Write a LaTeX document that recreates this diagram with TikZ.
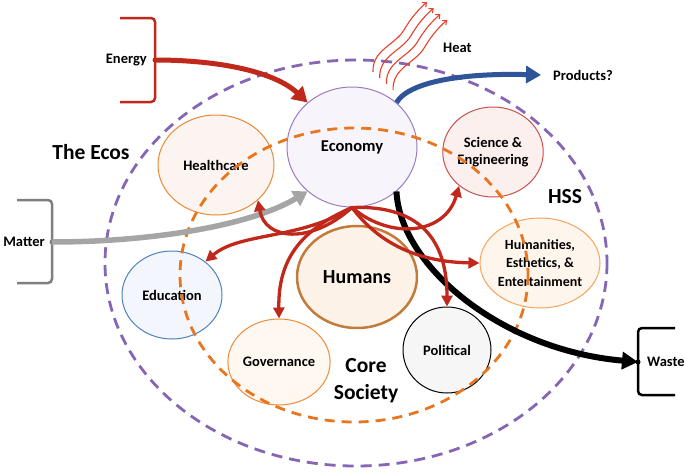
\documentclass[tikz,border=0pt]{standalone}
\usepackage{fontspec}
\setmainfont{Carlito}
\usetikzlibrary{shapes.geometric,arrows.meta}
\definecolor{ecopurple}{HTML}{8566B4}
\definecolor{coreorange}{HTML}{E8761E}
\definecolor{flowred}{HTML}{C0281C}
\definecolor{heatred}{HTML}{E8402A}
\definecolor{prodblue}{HTML}{2E5597}
\definecolor{mattergray}{HTML}{A5A5A5}
\definecolor{bracketgray}{HTML}{7F7F7F}
\definecolor{econline}{HTML}{9B7BC4}
\definecolor{econfill}{HTML}{F8F4FC}
\definecolor{healthline}{HTML}{EA8A36}
\definecolor{healthfill}{HTML}{FCF4F0}
\definecolor{sciline}{HTML}{C8504D}
\definecolor{scifill}{HTML}{FCF0EE}
\definecolor{humline}{HTML}{F6A45C}
\definecolor{humfill}{HTML}{FEF6EC}
\definecolor{eduline}{HTML}{4F81BD}
\definecolor{edufill}{HTML}{F3F6FC}
\definecolor{humansline}{HTML}{C27B3A}
\definecolor{humansfill}{HTML}{FCF2E8}
\definecolor{govline}{HTML}{EE8A3A}
\definecolor{govfill}{HTML}{FEF8F1}
\definecolor{polfill}{HTML}{F6F6F6}
\newcommand\mylbl{\fontsize{14.5}{17}\selectfont\bfseries}
\newcommand\mybig{\fontsize{21.5}{27}\selectfont\bfseries}
\begin{document}
\begin{tikzpicture}[x=1pt,y=-1pt,
  blob/.style={ellipse, draw, inner sep=0pt, line width=1pt, align=center, font=\mylbl},
  txt/.style={inner sep=0pt, align=center, font=\mylbl},
  bigtxt/.style={inner sep=0pt, align=center, font=\mybig},
  redflow/.style={draw=flowred, line width=3.3pt, -{Triangle[length=11pt,width=11pt]}},
  heatline/.style={draw=heatred, line width=1.1pt, -{Straight Barb[length=3.5pt,width=6pt]}},
  bracket/.style={line width=2.5pt, rounded corners=4pt},
  port/.style={circle, fill, inner sep=0pt, minimum size=5pt}
]
\useasboundingbox (0,0) rectangle (685,471);
\fill[white] (0,0) rectangle (685,471);

% outer ecos ellipse
\draw[ecopurple, line width=2.8pt, dash pattern=on 11pt off 7pt] (356,263) ellipse [x radius=251, y radius=203];

% nodes
\node[blob, draw=econline, fill=econfill, minimum width=130pt, minimum height=120pt, font=\fontsize{16.5}{19}\selectfont\bfseries] (economy) at (352,147) {Economy};
\node[blob, draw=healthline, fill=healthfill, minimum width=116pt, minimum height=100pt] (healthcare) at (216,165) {Healthcare};
\node[blob, draw=sciline, fill=scifill, minimum width=96pt, minimum height=90pt] (science) at (493,152) {Science \&\\Engineering};
\node[blob, draw=humline, fill=humfill, minimum width=120pt, minimum height=90pt, font=\fontsize{14}{18.5}\selectfont\bfseries] (humanities) at (540,263) {Humanities,\\Esthetics, \&\\Entertainment};
\node[blob, draw=eduline, fill=edufill, minimum width=100pt, minimum height=88pt] (education) at (172,295) {Education};
\node[blob, draw=humansline, fill=humansfill, line width=2.5pt, minimum width=120pt, minimum height=102pt, font=\fontsize{20}{24}\selectfont\bfseries] (humans) at (357,277) {Humans};
\node[blob, draw=govline, fill=govfill, minimum width=98pt, minimum height=86pt] (governance) at (279,362) {Governance};
\node[blob, draw=black, fill=polfill, minimum width=88pt, minimum height=86pt] (political) at (447,350) {Political};

% core society ellipse (over the nodes)
\draw[coreorange, line width=2.8pt, dash pattern=on 10pt off 7pt] (354,275) ellipse [x radius=174, y radius=147];

% free labels
\node[bigtxt] (ecos) at (91,152) {The Ecos};
\node[bigtxt] (hss) at (565,197) {HSS};
\node[bigtxt] (core) at (366,381) {Core\\Society};

% brackets
\draw[bracket, flowred] (120,18) -- (155,18) -- (155,102) -- (120,102);
\draw[bracket, bracketgray] (17,200) -- (52,200) -- (52,283) -- (17,283);
\draw[bracket, black] (675,328) -- (638,328) -- (638,395) -- (675,395);
\node[port, flowred] (energyport) at (155,60) {};
\node[port, bracketgray] (matterport) at (52,242) {};
\node[port, black] (wasteport) at (638,362) {};
\node[txt, anchor=east] (energy) at (147,60) {Energy};
\node[txt, anchor=east] (matter) at (45,242) {Matter};
\node[txt, anchor=west] (waste) at (647,362) {Waste};

% heat
\foreach \i in {0,1,2,3}{
  \draw[heatline, shift={(6.7*\i,6*\i)}] (373,72) .. controls (372,50) and (395,45) .. (404,30) .. controls (411,18) and (418,10) .. (427,2);
}
\node[txt, anchor=west] (heat) at (443,48) {Heat};

% products
\coordinate (prodtip) at (541,75);
\node[txt, anchor=west] (products) at (553,75) {Products?};
\draw[prodblue, line width=5pt, -{Triangle[length=15pt,width=17pt]}] (economy.45) .. controls (410,80) and (470,73) .. (prodtip);

% energy
\draw[flowred, line width=5pt, -{Triangle[length=15pt,width=17pt]}] (energyport.center) .. controls (220,60) and (275,72) .. (economy.135);

% matter
\draw[mattergray, line width=5.5pt, -{Triangle[length=14pt,width=17pt]}] (matterport.center) .. controls (150,242) and (250,226) .. (economy.225);

% waste
\draw[black, line width=6pt, -{Triangle[length=16pt,width=17pt]}] (economy.-45) .. controls (400,265) and (500,350) .. (wasteport.center);

% red flows from the economy
\draw[redflow] (economy.south) .. controls (310,245) and (265,240) .. (healthcare.-40);
\draw[redflow] (economy.south) .. controls (300,240) and (240,232) .. (education.45);
\draw[redflow] (economy.south) .. controls (300,230) and (278,260) .. (governance.north);
\draw[redflow] (economy.south) .. controls (390,240) and (445,235) .. (science.225);
\draw[redflow] (economy.south) .. controls (380,245) and (420,262) .. (humanities.west);
\draw[redflow] (economy.south) .. controls (420,205) and (447,240) .. (political.north);
\end{tikzpicture}
\end{document}
